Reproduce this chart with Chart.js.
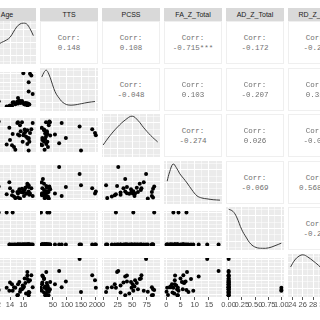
<!DOCTYPE html>
<html>
<head>
<meta charset="utf-8">
<script src="https://cdn.jsdelivr.net/npm/chart.js@4.4.1/dist/chart.umd.min.js"></script>
<style>
    html, body { margin: 0; padding: 0; background: #fff; }
    #wrap { position: relative; width: 320px; height: 320px; overflow: hidden; }
    canvas { position: absolute; }
    .strip {
        position: absolute; background: #d9d9d9; color: #1a1a1a;
        font: 7px "Liberation Sans", sans-serif; text-align: center;
        height: 13px; line-height: 13px; white-space: nowrap; overflow: hidden;
    }
    .corr {
        position: absolute; background: #fff; border: 1px solid #efefef; box-sizing: border-box;
        color: #707070; font: 7.5px "Liberation Mono", monospace; text-align: center;
        display: flex; flex-direction: column; justify-content: center;
        line-height: 10px; white-space: pre; overflow: visible;
    }
</style>
</head>
<body>
<div id="wrap"></div>
<script>
// variables (one value per subject)
const varNames = ['Age', 'TTS', 'PCSS', 'FA_Z_Total', 'AD_Z_Total', 'RD_Z_Total'];
const age  = [11.8, 12.0, 12.2, 17.2, 17.0, 16.0, 16.8, 16.8, 17.4, 16.6, 16.3, 15.8, 15.2, 14.3, 14.8, 13.5, 14.4, 12.3, 15.5, 15.1, 15.2, 16.8, 16.2, 15.9, 16.4, 14.0, 15.6, 16.1, 13.9, 15.4, 16.9, 14.6, 16.6, 16.6];
const tts  = [145, 72, 14, 190, 200, 203, 96, 150, 81, 18, 28, 39, 57, 11, 20, 7, 30, 37, 35, 34, 25, 22, 18, 30, 25, 12, 28, 22, 10, 40, 18, 32, 12, 26];
const pcss = [74, 26, 38, 66, 55, 49, 41, 5, 84, 63, 58, 86, 51, 20, 7, 22, 52, 88, 77, 84, 86, 38, 65, 30, 45, 35, 60, 54, 70, 48, 30, 15, 41, 24];
const faZ  = [14.4, 18.4, 11.4, 6.0, 3.0, 4.1, 6.8, 7.8, 1.6, 8.7, 6.3, 5.8, 3.0, 2.0, 0.3, 2.5, 4.3, 7.1, 0.1, 3.9, 0.6, 4.1, 5.0, 3.5, 2.8, 6.0, 3.8, 1.5, 9.5, 5.5, 2.2, 1.2, 3.1, 7.3];
const adZ  = [0, 0, 0, 0, 0, 0, 0, 0, 0, 0, 0, 0, 0, 0, 0, 1, 1, 1, 0, 0, 0, 0, 0, 0, 0, 0, 0, 0, 0, 0, 0, 0, 0, 0];
const rdZ  = [34.0, 30.6, 29.0, 29.4, 28.0, 25.8, 27.6, 24.6, 26.0, 28.3, 27.2, 25.4, 26.8, 26.8, 25.8, 25.8, 25.0, 25.2, 24.7, 23.7, 23.8, 23.7, 28.5, 26.5, 24.2, 27.3, 25.4, 26.2, 25.0, 27.5, 24.5, 26.0, 29.3, 30.3];
const allVars = [age, tts, pcss, faZ, adZ, rdZ];

// density curves on the diagonal (x value, height as share of panel)
const ageDensX  = [12.0, 12.5, 13, 13.5, 14, 14.5, 15, 15.5, 16, 16.5, 17, 17.5];
const ageDensY  = [0.40, 0.48, 0.52, 0.56, 0.62, 0.74, 0.86, 0.93, 0.95, 0.93, 0.82, 0.66];
const ttsDensX  = [10, 18, 26, 35, 44, 53, 62, 72, 80, 92, 104, 125, 151, 175, 200];
const ttsDensY  = [0.79, 0.90, 0.95, 0.86, 0.70, 0.52, 0.39, 0.30, 0.23, 0.17, 0.14, 0.14, 0.17, 0.20, 0.22];
const pcssDensX = [0, 12, 25, 38, 50, 60, 70, 82, 94];
const pcssDensY = [0.28, 0.50, 0.70, 0.86, 0.95, 0.85, 0.68, 0.50, 0.35];
const faDensX   = [0.3, 1.2, 2.4, 3.5, 4.8, 6, 7.3, 9, 10.8, 12.5, 14.3, 16.5, 18.9];
const faDensY   = [0.53, 0.75, 0.93, 0.85, 0.70, 0.60, 0.49, 0.33, 0.19, 0.14, 0.12, 0.10, 0.09];
const adDensX   = [0, 0.08, 0.15, 0.25, 0.33, 0.42, 0.52, 0.64, 0.76, 0.88, 1.0];
const adDensY   = [0.95, 0.90, 0.77, 0.47, 0.30, 0.14, 0.06, 0.04, 0.05, 0.10, 0.16];
const rdDensX   = [23.7, 24.5, 25.3, 26.1, 27, 28, 29, 30, 31, 32, 33, 34];
const rdDensY   = [0.70, 0.86, 0.95, 0.98, 0.93, 0.84, 0.74, 0.62, 0.48, 0.34, 0.22, 0.15];
const densX = [ageDensX, ttsDensX, pcssDensX, faDensX, adDensX, rdDensX];
const densY = [ageDensY, ttsDensY, pcssDensY, faDensY, adDensY, rdDensY];

// correlation labels, upper triangle, row by row
const corrAge  = ['0.148', '0.108', '-0.715***', '-0.172', '-0.218'];
const corrTTS  = ['-0.048', '0.103', '-0.207', '0.351'];
const corrPCSS = ['-0.274', '0.026', '-0.084'];
const corrFA   = ['-0.069', '0.568***'];
const corrAD   = ['-0.216'];
const corrRows = [corrAge, corrTTS, corrPCSS, corrFA, corrAD];

// axes
const axisMin = [9.2, 3.6, -2, -0.8, -0.05, 23.2];
const axisMax = [17.9, 210.7, 98, 19.6, 1.05, 34.3];
const majorTicks = [[10, 12, 14, 16, 18], [50, 100, 150, 200], [0, 25, 50, 75], [0, 5, 10, 15], [0, 0.25, 0.5, 0.75, 1], [24, 26, 28, 30, 32, 34]];
const tickLabels = [['10', '12', '14', '16', '18'], ['50', '100', '150', '200'], ['0', '25', '50', '75'], ['0', '5', '10', '15'], ['0.00', '0.25', '0.50', '0.75', '1.00'], ['24', '26', '28', '30', '32', '34']];
const densTicks = [0.2, 0.5, 0.8];

// layout of the matrix
const colLeft = c => -22 + 62 * c;
const rowTop = [21, 68, 114, 161, 207, 254];
const PW = 58, PH = 43, M = 12, LABEL_H = 12;

const panelBg = {
    id: 'panelBg',
    beforeDraw(chart, args, opts) {
        const { ctx, chartArea: a } = chart;
        ctx.save();
        ctx.fillStyle = opts.color;
        ctx.fillRect(a.left, a.top, a.right - a.left, a.bottom - a.top);
        ctx.restore();
    }
};

Chart.defaults.animation = false;
Chart.defaults.responsive = false;
Chart.defaults.events = [];
Chart.defaults.font.family = '"Liberation Sans", Arial, sans-serif';

const makeAxis = (min, max, majors, labels, showLabels) => {
    const step = majors[1] - majors[0];
    const vals = [majors[0] - step / 2];
    majors.forEach(m => { vals.push(m); vals.push(m + step / 2); });
    const list = vals.filter(v => v >= min && v <= max).sort((a, b) => a - b);
    const majorIndex = v => majors.findIndex(m => Math.abs(m - v) < 1e-9);
    return {
        type: 'linear',
        min: min,
        max: max,
        afterBuildTicks: s => { s.ticks = list.map(v => ({ value: v })); },
        afterFit: s => { s.paddingLeft = 0; s.paddingRight = 0; s.paddingTop = 0; s.paddingBottom = 0; },
        border: { display: false },
        grid: {
            color: '#ffffff',
            lineWidth: c => (c.tick && majorIndex(c.tick.value) >= 0) ? 1 : 0.5,
            drawTicks: showLabels,
            tickLength: 3,
            tickWidth: 1,
            tickColor: c => (c.tick && majorIndex(c.tick.value) >= 0) ? '#555555' : 'rgba(0,0,0,0)'
        },
        ticks: {
            display: showLabels,
            padding: 0,
            autoSkip: false,
            minRotation: 0,
            maxRotation: 0,
            color: '#4d4d4d',
            font: { size: 7.5 },
            callback: v => {
                const i = majorIndex(v);
                return i >= 0 ? labels[i] : '';
            }
        }
    };
};

const wrap = document.getElementById('wrap');

const addPanelChart = (r, c, datasets, yAxis) => {
    const bottom = r === 5;
    const canvas = document.createElement('canvas');
    canvas.width = PW + 2 * M;
    canvas.height = PH + (bottom ? LABEL_H : 0);
    canvas.style.left = (colLeft(c) - M) + 'px';
    canvas.style.top = rowTop[r] + 'px';
    wrap.appendChild(canvas);
    new Chart(canvas, {
        type: 'scatter',
        data: { datasets: datasets },
        options: {
            layout: { padding: { left: M, right: M, top: 0, bottom: 0 } },
            plugins: { legend: { display: false }, tooltip: { enabled: false }, panelBg: { color: '#ebebeb' } },
            scales: {
                x: makeAxis(axisMin[c], axisMax[c], majorTicks[c], tickLabels[c], bottom),
                y: yAxis
            }
        },
        plugins: [panelBg]
    });
};

// strips on top
varNames.forEach((name, c) => {
    const s = document.createElement('div');
    s.className = 'strip';
    s.style.left = colLeft(c) + 'px';
    s.style.top = '8px';
    s.style.width = PW + 'px';
    s.textContent = name;
    wrap.appendChild(s);
});

for (let r = 0; r < 6; r++) {
    for (let c = 0; c < 6; c++) {
        if (c > r) {
            const d = document.createElement('div');
            d.className = 'corr';
            d.style.left = colLeft(c) + 'px';
            d.style.top = rowTop[r] + 'px';
            d.style.width = PW + 'px';
            d.style.height = PH + 'px';
            d.textContent = 'Corr:\n' + corrRows[r][c - r - 1];
            wrap.appendChild(d);
        } else if (c === r) {
            const pts = densX[c].map((x, j) => ({ x: x, y: densY[c][j] }));
            addPanelChart(r, c, [{
                data: pts,
                showLine: true,
                borderColor: '#3a3a3a',
                borderWidth: 1,
                pointRadius: 0,
                tension: 0.4
            }], makeAxis(0, 1, densTicks, ['', '', ''], false));
        } else {
            const xs = allVars[c], ys = allVars[r];
            const pts = xs.map((x, i) => ({ x: x, y: ys[i] }));
            addPanelChart(r, c, [{
                data: pts,
                pointRadius: 2,
                pointBackgroundColor: '#000000',
                pointBorderWidth: 0
            }], makeAxis(axisMin[r], axisMax[r], majorTicks[r], tickLabels[r], false));
        }
    }
}
</script>
</body>
</html>
